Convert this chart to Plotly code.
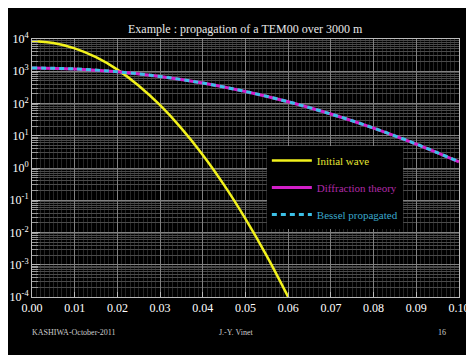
import plotly.graph_objects as go

# Data
x_initial = [0.0, 0.005, 0.01, 0.015, 0.02, 0.025, 0.03, 0.035, 0.04, 0.045, 0.05, 0.055, 0.06]
y_initial = [8500, 7500, 5130, 2720, 1120, 357, 88.5, 17.0, 2.54, 0.294, 0.0264, 0.00185, 0.0001]

x_diff = [0.0, 0.01, 0.02, 0.03, 0.04, 0.05, 0.06, 0.07, 0.08, 0.09, 0.10]
y_diff = [1260, 1180, 964, 689, 431, 236, 113, 47.2, 17.3, 5.53, 1.55]
y_bessel = [1260, 1180, 964, 689, 431, 236, 113, 47.2, 17.3, 5.53, 1.55]

x_ticks = [0.0, 0.01, 0.02, 0.03, 0.04, 0.05, 0.06, 0.07, 0.08, 0.09, 0.10]
y_ticks = [1e-4, 1e-3, 1e-2, 1e-1, 1, 10, 100, 1000, 10000]
y_ticktext = ["10<sup>-4</sup>", "10<sup>-3</sup>", "10<sup>-2</sup>", "10<sup>-1</sup>",
              "10<sup>0</sup>", "10<sup>1</sup>", "10<sup>2</sup>", "10<sup>3</sup>", "10<sup>4</sup>"]

title_text = "Example : propagation of a TEM00 over 3000 m"
footer_left = "KASHIWA-October-2011"
footer_mid = "J.-Y. Vinet"
footer_right = "16"

SERIF = "Liberation Serif"
YELLOW = "#f2f21c"
MAGENTA = "#d21fc8"
CYAN = "#3cc0e6"

fig = go.Figure()
fig.add_trace(go.Scatter(
    x=x_initial, y=y_initial, mode="lines", line=dict(color=YELLOW, width=2.5, shape="spline"),
    name="<span style='color:#e6e632'>Initial wave</span>", legendgroup="a"))
fig.add_trace(go.Scatter(
    x=x_diff, y=y_diff, mode="lines", line=dict(color=MAGENTA, width=3, shape="spline"),
    name="<span style='color:#b02aa8'>Diffraction theory</span>", legendgroup="b"))
fig.add_trace(go.Scatter(
    x=x_diff, y=y_bessel, mode="lines", line=dict(color=CYAN, width=3, dash="5px,4px", shape="spline"),
    name="<span style='color:#3aa8cc'>Bessel propagated</span>", legendgroup="c"))

fig.update_layout(
    width=474, height=355,
    margin=dict(l=24, r=23, t=31, b=66),
    paper_bgcolor="black", plot_bgcolor="black",
    font=dict(family=SERIF, color="white", size=12),
    showlegend=True,
    legend=dict(x=0.55, y=0.585, xanchor="left", yanchor="top",
                bgcolor="black", font=dict(family=SERIF, size=11),
                traceorder="grouped", tracegroupgap=8, itemwidth=40),
    annotations=[
        dict(text=title_text, xref="paper", yref="paper", x=0.5, y=1.0, yshift=1,
             xanchor="center", yanchor="bottom", showarrow=False,
             font=dict(family=SERIF, size=12, color="#e8e8e8")),
        dict(text=footer_left, xref="paper", yref="paper", x=-0.005, y=0, yshift=-35,
             xanchor="left", yanchor="middle", showarrow=False,
             font=dict(family=SERIF, size=8, color="#cccccc")),
        dict(text=footer_mid, xref="paper", yref="paper", x=0.478, y=0, yshift=-35,
             xanchor="center", yanchor="middle", showarrow=False,
             font=dict(family=SERIF, size=8, color="#cccccc")),
        dict(text=footer_right, xref="paper", yref="paper", x=0.96, y=0, yshift=-35,
             xanchor="center", yanchor="middle", showarrow=False,
             font=dict(family=SERIF, size=8, color="#cccccc")),
    ],
)

fig.update_xaxes(
    range=[0, 0.10], tickvals=x_ticks, tickformat=".2f", automargin=False,
    showgrid=True, gridcolor="#808080", gridwidth=1,
    minor=dict(dtick=0.001, showgrid=True, gridcolor="#262626", gridwidth=1),
    showline=True, linecolor="#bbbbbb", linewidth=1, mirror=True,
    ticks="inside", ticklen=5, tickcolor="#bbbbbb",
    zeroline=False, tickfont=dict(family=SERIF, size=12, color="white"),
)
fig.update_yaxes(
    type="log", range=[-4, 4], tickvals=y_ticks, ticktext=y_ticktext, automargin=False,
    showgrid=True, gridcolor="#808080", gridwidth=1,
    minor=dict(dtick="D1", showgrid=True, gridcolor="#4a4a4a", gridwidth=1,
               ticks="inside", ticklen=6, tickcolor="#999999"),
    showline=True, linecolor="#bbbbbb", linewidth=1, mirror=True,
    ticks="inside", ticklen=8, tickcolor="#bbbbbb",
    zeroline=False, tickfont=dict(family=SERIF, size=12, color="white"),
)

fig.write_html("out.html")
